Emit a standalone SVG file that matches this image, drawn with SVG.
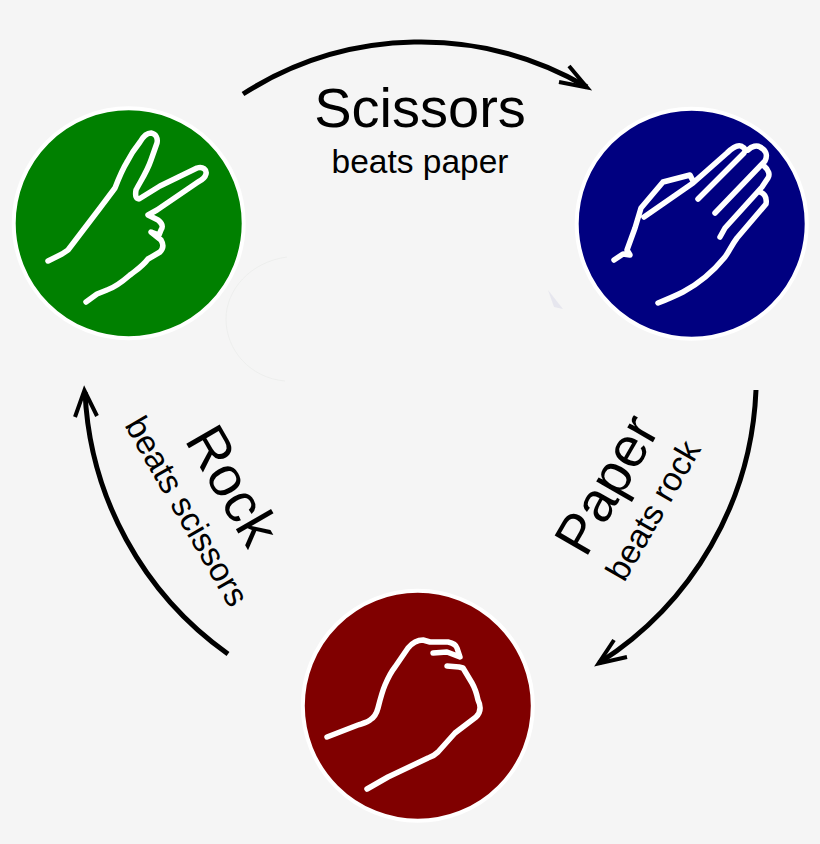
<svg xmlns="http://www.w3.org/2000/svg" width="820" height="844" viewBox="0 0 820 844">
<style>
.disc{stroke:#fff;stroke-width:4}
.hand{fill:none;stroke:#fff;stroke-width:5.5;stroke-linecap:round;stroke-linejoin:round}
.arc{fill:none;stroke:#000;stroke-width:5}
.head{fill:none;stroke:#000;stroke-width:4;stroke-miterlimit:10}
text{font-family:"Liberation Sans",Arial,sans-serif;fill:#000;text-anchor:middle}
.big{font-size:56px}
.small{font-size:33.5px}
</style>
<rect width="820" height="844" fill="#f5f5f5"/>
<path d="M287 257C250 262 226 290 226 319C226 350 250 378 285 381" fill="none" stroke="#e9ebe9" stroke-width="0.7"/>
<path d="M548 290L563 309L554 307Z" fill="#e6e6ee"/>
<g id="connectors">
<path class="arc" d="M243 94A330 330 0 0 1 587 87"/>
<path class="head" d="M569 66L587 87.5L559 82"/>
<path class="arc" d="M756 390A340 340 0 0 1 599 663"/>
<path class="head" d="M614 640L598.500 663.500L627 657"/>
<path class="arc" d="M228 654A340 340 0 0 1 85 392"/>
<path class="head" d="M75 417L84.400 390.300L97 416"/>
</g>
<g id="scissors">
<circle class="disc" cx="128.700" cy="223.300" r="115" fill="#008000"/>
<path class="hand" d="M48 261L62 254L68 250L100 208L115 188C120 175 122 170 127 162C132 152 136 147 140 142C144 135 148 133 151 133C156 134 158 138 157 143L151 160C147 172 140 182 136 190C135 196 136 199 139 199L160 186L197 168C203 166 207 170 206 174C205 178 202 180 198 182L157 210L148 215L158 220C163 224 163 227 161 230L159 235L151 232L161 240C164 245 163 249 160 252L148 259C142 267 135 271 130 275C122 282 113 288 107 290L97 294L86 302"/>
<text class="big" x="420" y="127">Scissors</text>
<text class="small" x="420" y="173">beats paper</text>
</g>
<g id="paper">
<circle class="disc" cx="691.700" cy="223.700" r="115" fill="#000080"/>
<path class="hand" d="M614 260L623 254L630 255L627 250L635 228L641 208L663 182L690 175L693 181M644 217L693 183L727 153C733 147 738 145 741 146C745 148 746 150 744 153L698 199M748 150C752 146 757 145 760 147C766 150 768 155 765 161L715 213M764 166C769 170 770 175 768 178L762 187L725 228L720 237M760 192C765 194 767 198 766 204L737 238C731 246 730 250 725 257C716 268 702 282 683 292C675 296 668 299 658 303"/>
<text class="big" transform="translate(623 494) rotate(-60)" x="0" y="0">Paper</text>
<text class="small" transform="translate(663 516) rotate(-60)" x="0" y="0">beats rock</text>
</g>
<g id="rock">
<circle class="disc" cx="417.800" cy="705.800" r="115" fill="#800000"/>
<path class="hand" d="M327 737L358 725C364 723 368 722 370 720C375 717 377 712 378 708C380 700 382 692 385 685C388 678 391 672 395 667L408 648C413 642 418 640 423 640L430 642L448 642C453 643 456 645 457 648L460 657L447 652L433 653M447 666L459 667L463 668L472 683C476 690 477 695 478 700C481 706 481 712 476 717L455 733L438 752C434 756 431 757 428 758L388 777L367 789"/>
<text class="big" transform="translate(216 495) rotate(60)" x="0" y="0">Rock</text>
<text class="small" transform="translate(177 517) rotate(60)" x="0" y="0">beats scissors</text>
</g>
</svg>
